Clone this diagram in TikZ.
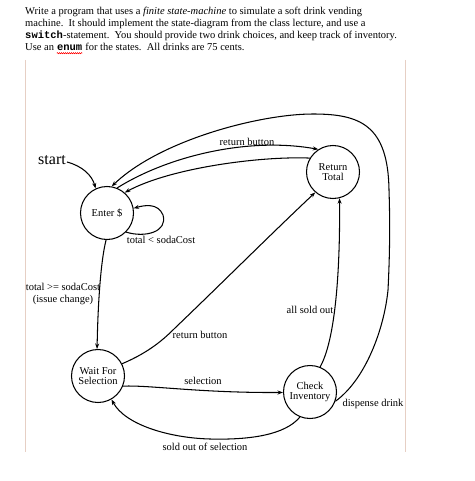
\documentclass[tikz,border=0pt]{standalone}
\usepackage{fontspec}
\setmainfont{Liberation Serif}
\setmonofont{Liberation Mono}
\usetikzlibrary{arrows.meta,decorations.pathmorphing}
\definecolor{framecol}{HTML}{E6CFC4}
\begin{document}
\begin{tikzpicture}[x=1pt,y=-1pt,
  state/.style={draw, circle, line width=1.05pt, minimum size=53pt, inner sep=0pt, align=center, font=\fontsize{10.5}{10.5}\selectfont},
  edge/.style={draw, line width=1.05pt, -{Stealth[length=5.5pt,width=4pt]}},
  lbl/.style={font=\fontsize{10.5}{11.5}\selectfont, inner sep=1pt, align=center},
  para/.style={anchor=base west, inner sep=0pt, font=\fontsize{10.5}{12}\selectfont}]
\useasboundingbox (0,0) rectangle (474,481);
% frame lines
\draw[framecol, line width=1pt] (25,60) -- (25,452);
\draw[framecol, line width=1pt] (405,60) -- (405,452);
% text
\node[para] (t1) at (25,15) {Write a program that uses a \textit{finite state-machine} to simulate a soft drink vending};
\node[para] (t2) at (25,27) {machine.\ \ It should implement the state-diagram from the class lecture, and use a};
\node[para] (t3) at (25,39) {{\ttfamily\bfseries switch}-statement.\ \ You should provide two drink choices, and keep track of inventory.};
\node[para] (t4a) at (25,51) {Use an};
\node[para] (t4b) at ([xshift=2.6pt]t4a.base east) {\ttfamily\bfseries enum};
\node[para] (t4c) at ([xshift=2.6pt]t4b.base east) {for the states.\ \ All drinks are 75 cents.};
\draw[red, line width=0.5pt, decorate, decoration={snake, amplitude=0.6pt, segment length=2pt}]
  ([yshift=-2.2pt]t4b.base west) -- ([yshift=-2.2pt]t4b.base east);
% states
\node[state] (enter) at (107,213) {Enter \$};
\node[state] (ret) at (333,172) {Return\\Total};
\node[state] (wait) at (98,376) {Wait For\\Selection};
\node[state] (check) at (310,392) {Check\\Inventory};
\node[font=\fontsize{16}{16}\selectfont, inner sep=1pt] (start) at (52,160) {start};
% edges
\draw[edge] ([yshift=-2pt]start.east) .. controls (82,166) and (92,175) .. (enter.115);
\draw[edge] (enter.68) .. controls (170,155) and (250,137) .. (ret.123);
\draw[edge] (ret.149) .. controls (260,156) and (170,168) .. (enter.49);
\draw[edge] (check.-20) .. controls (365,380) and (384,330) .. (388,290)
  .. controls (390,250) and (390,220) .. (389,190)
  .. controls (388,125) and (360,114) .. (313,114)
  .. controls (260,114) and (160,140) .. (enter.80);
\draw[edge] (check.68) .. controls (338,335) and (340,250) .. (ret.-76);
\draw[edge] (enter.-45) .. controls (145,238) and (168,232) .. (163,215)
  .. controls (158,203) and (145,205) .. (enter.10);
\draw[edge] (enter.-92) .. controls (101,260) and (98,300) .. (wait.92);
\draw[edge] (wait.27) .. controls (150,352) and (165,338) .. (175,328)
  .. controls (220,285) and (270,235) .. (ret.-131);
\draw[edge] (wait.-22) .. controls (150,385) and (200,393) .. (check.181);
\draw[edge] (check.-112) .. controls (285,435) and (250,440) .. (210,439)
  .. controls (170,438) and (125,425) .. (wait.-60);
% labels
\node[lbl] (l1) at (247,142) {return button};
\node[lbl] (l2) at (161,240) {total < sodaCost};
\node[lbl] (l3) at (63,294) {total >= sodaCost\\(issue change)};
\node[lbl] (l4) at (200,335) {return button};
\node[lbl] (l5) at (203,381) {selection};
\node[lbl] (l6) at (205,447) {sold out of selection};
\node[lbl] (l7) at (310,310) {all sold out};
\node[lbl] (l8) at (373,404) {dispense drink};
\end{tikzpicture}
\end{document}
